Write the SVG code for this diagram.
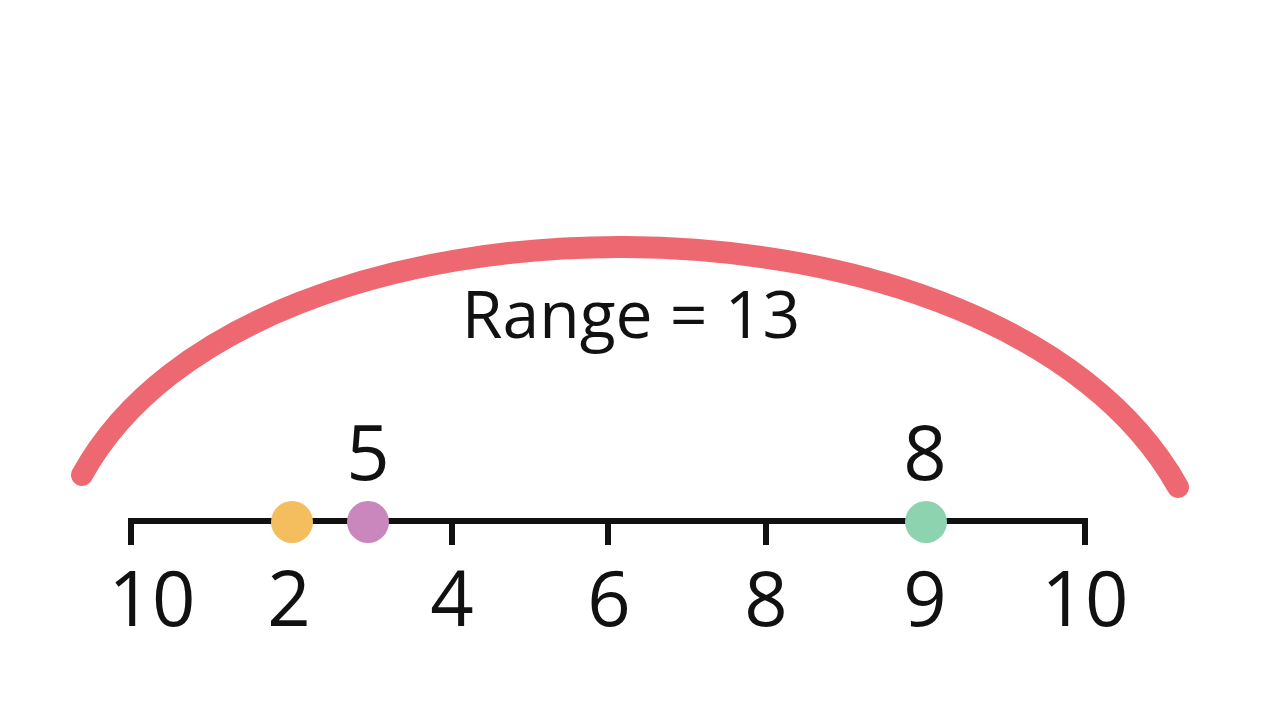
<svg xmlns="http://www.w3.org/2000/svg" width="1280" height="720" viewBox="0 0 1280 720">
<style>
.lbl{font-family:"Open Sans","Liberation Sans",sans-serif;font-size:76px;fill:#111;text-anchor:middle}
.ttl{font-family:"Open Sans","Liberation Sans",sans-serif;font-size:66px;fill:#111;text-anchor:middle}
.axis{stroke:#111;stroke-width:6;fill:none}
</style>
<rect width="1280" height="720" fill="#fff"/>
<g id="arc">
<path d="M82,475 C250,169 1000,169 1178,487" fill="none" stroke="#EE6872" stroke-width="22" stroke-linecap="round"/>
<text class="ttl" x="631" y="338">Range = 13</text>
</g>
<g id="axis">
<path class="axis" d="M131,545 V521 H1085 V545 M452,521 V545 M608,521 V545 M766,521 V545"/>
</g>
<g id="ticklabels">
<text class="lbl" x="152" y="626">10</text>
<text class="lbl" x="289" y="626">2</text>
<text class="lbl" x="452" y="626">4</text>
<text class="lbl" x="609" y="626">6</text>
<text class="lbl" x="766" y="626">8</text>
<text class="lbl" x="925" y="626">9</text>
<text class="lbl" x="1085" y="626">10</text>
</g>
<g id="dot-yellow"><circle cx="292" cy="522" r="21" fill="#F4BE5E"/></g>
<g id="dot-purple"><circle cx="368" cy="522" r="21" fill="#C987BE"/><text class="lbl" x="368" y="480">5</text></g>
<g id="dot-green"><circle cx="926" cy="522" r="21" fill="#8DD3B0"/><text class="lbl" x="925" y="480">8</text></g>
</svg>
